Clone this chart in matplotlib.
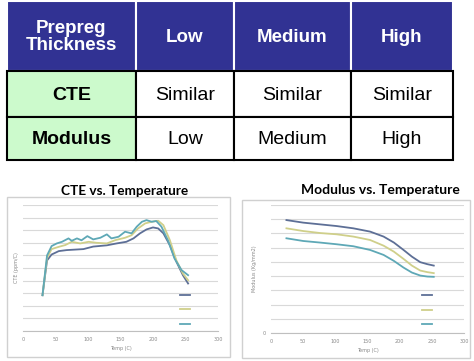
import matplotlib
matplotlib.use("Agg")
import matplotlib.pyplot as plt
from matplotlib.patches import Rectangle

W, H = 474, 361

# ---------------- table data ----------------
header = ["Prepreg\nThickness", "Low", "Medium", "High"]
row_labels = ["CTE", "Modulus"]
cte_row = ["Similar", "Similar", "Similar"]
modulus_row = ["Low", "Medium", "High"]

# ---------------- CTE vs temperature ----------------
cte_dark_x = [30, 37, 44, 55, 67, 93, 108, 129, 144, 159, 170, 180, 190, 200, 208, 216, 226, 236, 246, 254]
cte_dark_y = [2.84, 5.6, 6.07, 6.34, 6.42, 6.5, 6.7, 6.8, 6.95, 7.08, 7.35, 7.75, 8.06, 8.22, 8.14, 7.75, 6.8, 5.5, 4.43, 3.77]
cte_yellow_x = [30, 37, 44, 55, 65, 75, 88, 101, 113, 129, 142, 157, 167, 177, 188, 198, 208, 216, 226, 236, 246, 254]
cte_yellow_y = [2.84, 5.8, 6.5, 6.68, 6.82, 7.08, 6.95, 7.08, 7.0, 6.95, 7.21, 7.4, 7.6, 8.14, 8.54, 8.67, 8.75, 8.4, 7.2, 5.6, 4.56, 4.03]
cte_teal_x = [30, 37, 44, 52, 60, 70, 75, 83, 90, 99, 108, 119, 129, 136, 147, 157, 167, 175, 183, 190, 198, 205, 213, 223, 233, 244, 254]
cte_teal_y = [2.84, 6.0, 6.74, 6.95, 7.08, 7.35, 7.16, 7.35, 7.2, 7.53, 7.27, 7.4, 7.67, 7.35, 7.48, 7.88, 7.75, 8.28, 8.67, 8.8, 8.67, 8.73, 8.28, 7.2, 5.76, 4.83, 4.43]

# ---------------- Modulus vs temperature ----------------
mod_x = [24, 50, 76, 102, 128, 154, 175, 191, 206, 219, 232, 243, 253]
mod_dark_y = [7.94, 7.76, 7.64, 7.52, 7.36, 7.13, 6.78, 6.36, 5.84, 5.37, 4.98, 4.84, 4.74]
mod_yellow_y = [7.36, 7.17, 7.03, 6.94, 6.78, 6.54, 6.14, 5.72, 5.21, 4.74, 4.39, 4.28, 4.21]
mod_teal_y = [6.66, 6.47, 6.36, 6.24, 6.1, 5.84, 5.49, 5.07, 4.6, 4.25, 4.04, 3.97, 3.95]

x_ticks = [0, 50, 100, 150, 200, 250, 300]

C_DARK = "#5d6f96"
C_YEL = "#cfcf8a"
C_TEAL = "#5ea8b6"
GRID = "#d9d9d9"

fig = plt.figure(figsize=(W / 100, H / 100), dpi=100)
fig.patch.set_facecolor("white")

# overlay axes in pixel coordinates for table and frames
ov = fig.add_axes([0, 0, 1, 1])
ov.set_xlim(0, W)
ov.set_ylim(H, 0)
ov.axis("off")

col_x = [7, 136, 234, 351, 453]
row_y = [1, 71, 117, 160]
HEAD = "#313293"
GREEN = "#ccfacc"

for i in range(4):
    x0, x1 = col_x[i], col_x[i + 1]
    ov.add_patch(Rectangle((x0, row_y[0]), x1 - x0, row_y[1] - row_y[0],
                           facecolor=HEAD, edgecolor="white", lw=1.5))
    ov.text((x0 + x1) / 2, (row_y[0] + row_y[1]) / 2 + 1, header[i], color="white",
            fontsize=13.5, fontweight="bold", ha="center", va="center",
            family="Liberation Sans", linespacing=1.05)

body = [cte_row, modulus_row]
for r in range(2):
    y0, y1 = row_y[r + 1], row_y[r + 2]
    ov.add_patch(Rectangle((col_x[0], y0), col_x[1] - col_x[0], y1 - y0,
                           facecolor=GREEN, edgecolor="black", lw=1.5))
    ov.text((col_x[0] + col_x[1]) / 2, (y0 + y1) / 2 + 1, row_labels[r], fontsize=14,
            fontweight="bold", ha="center", va="center", family="Liberation Sans")
    for c in range(3):
        x0, x1 = col_x[c + 1], col_x[c + 2]
        ov.add_patch(Rectangle((x0, y0), x1 - x0, y1 - y0,
                               facecolor="white", edgecolor="black", lw=1.5))
        ov.text((x0 + x1) / 2, (y0 + y1) / 2 + 1, body[r][c], fontsize=14,
                ha="center", va="center", family="Liberation Sans")

# chart frames
ov.add_patch(Rectangle((7, 197), 223, 160, facecolor="none", edgecolor="#d0d0d0", lw=1))
ov.add_patch(Rectangle((242, 200), 228, 158, facecolor="none", edgecolor="#d0d0d0", lw=1))

ov.text(125, 195, "CTE vs. Temperature", fontsize=9.8, fontweight="bold",
        ha="center", va="baseline", family="Lato")
ov.text(380, 194, "Modulus vs. Temperature", fontsize=10, fontweight="bold",
        ha="center", va="baseline", family="Lato")


def style(ax, ymax):
    ax.set_xlim(0, 300)
    ax.set_ylim(0, ymax)
    ax.set_yticks(range(0, ymax + 1))
    ax.grid(axis="y", color=GRID, lw=0.8)
    ax.set_axisbelow(True)
    for s in ["top", "right", "left"]:
        ax.spines[s].set_visible(False)
    ax.spines["bottom"].set_color("#bfbfbf")
    ax.set_xticks(x_ticks)
    ax.tick_params(axis="both", length=0, labelsize=3.5, colors="#888888", pad=4)
    ax.set_facecolor("none")


def px_rect(x0, x1, ytop, ybot):
    return [x0 / W, (H - ybot) / H, (x1 - x0) / W, (ybot - ytop) / H]


# CTE axes
a1 = fig.add_axes(px_rect(23, 218, 205, 331))
style(a1, 10)
a1.set_yticklabels([""] * 11)
l1, = a1.plot(cte_dark_x, cte_dark_y, color=C_DARK, lw=1.3)
l2, = a1.plot(cte_yellow_x, cte_yellow_y, color=C_YEL, lw=1.3)
l3, = a1.plot(cte_teal_x, cte_teal_y, color=C_TEAL, lw=1.3)
a1.set_xlabel("Temp (C)", fontsize=3.5, color="#888888", labelpad=3)
a1.set_ylabel("CTE (ppm/C)", fontsize=3.5, color="#888888", labelpad=-1)
a1.legend([l1, l2, l3], [" ", " ", " "], frameon=False, handlelength=1.0,
          fontsize=7, labelspacing=0.45, loc="center",
          bbox_to_anchor=(0.84, 0.17), handletextpad=0)

# Modulus axes
a2 = fig.add_axes(px_rect(271, 464, 205, 333))
style(a2, 9)
a2.set_yticklabels(["0"] + [""] * 9)
m1, = a2.plot(mod_x, mod_dark_y, color=C_DARK, lw=1.3)
m2, = a2.plot(mod_x, mod_yellow_y, color=C_YEL, lw=1.3)
m3, = a2.plot(mod_x, mod_teal_y, color=C_TEAL, lw=1.3)
a2.set_xlabel("Temp (C)", fontsize=3.5, color="#888888", labelpad=3)
a2.set_ylabel("Modulus (Kg/mm2)", fontsize=3.5, color="#888888", labelpad=4)
a2.legend([m1, m2, m3], [" ", " ", " "], frameon=False, handlelength=1.0,
          fontsize=7, labelspacing=0.45, loc="center",
          bbox_to_anchor=(0.815, 0.18), handletextpad=0)

fig.savefig("out.png", dpi=100, facecolor="white")
